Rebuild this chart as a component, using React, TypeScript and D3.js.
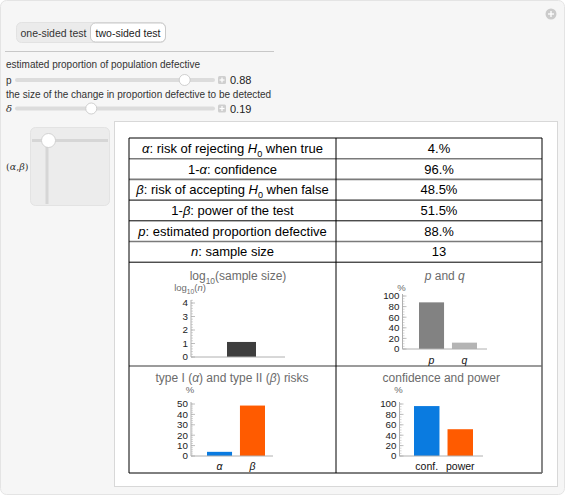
import React from "react";
import * as d3 from "d3";

// ---------- data ----------
const pValue = 0.88;
const deltaValue = 0.19;
const tableValues = ["4.%", "96.%", "48.5%", "51.5%", "88.%", "13"];
const sampleSize = 13;
const logTicks = [0, 1, 2, 3, 4];
const pqCategories = ["p", "q"];
const pqValues = [88, 12];
const riskCategories = ["α", "β"];
const riskValues = [4, 48.5];
const cpCategories = ["conf.", "power"];
const cpValues = [96, 51.5];
const pctTicks100 = [0, 20, 40, 60, 80, 100];
const pctTicks50 = [0, 10, 20, 30, 40, 50];

type Seg = { t: string; i?: boolean; sub?: boolean };
const tableLabels: Seg[][] = [
  [{ t: "α", i: true }, { t: ": risk of rejecting " }, { t: "H", i: true }, { t: "0", sub: true }, { t: " when true" }],
  [{ t: "1-" }, { t: "α", i: true }, { t: ": confidence" }],
  [{ t: "β", i: true }, { t: ": risk of accepting " }, { t: "H", i: true }, { t: "0", sub: true }, { t: " when false" }],
  [{ t: "1-" }, { t: "β", i: true }, { t: ": power of the test" }],
  [{ t: "p", i: true }, { t: ": estimated proportion defective" }],
  [{ t: "n", i: true }, { t: ": sample size" }],
];

const FONT = "'Liberation Sans', Arial, Helvetica, sans-serif";
const BLUE = "#0a7be0";
const ORANGE = "#ff5b00";

function Rich({ segs, x, y, size, fill = "#000", anchor = "middle" }: { segs: Seg[]; x: number; y: number; size: number; fill?: string; anchor?: string }) {
  const out: React.ReactNode[] = [];
  let shifted = false;
  segs.forEach((s, k) => {
    let dy: number | undefined = undefined;
    if (s.sub && !shifted) { dy = size * 0.3; shifted = true; }
    else if (!s.sub && shifted) { dy = -size * 0.3; shifted = false; }
    out.push(
      <tspan key={k} dy={dy} fontStyle={s.i ? "italic" : undefined} fontSize={s.sub ? size * 0.7 : undefined}>
        {s.t}
      </tspan>
    );
  });
  return (
    <text x={x} y={y} fontSize={size} fontFamily={FONT} fill={fill} textAnchor={anchor as any}>
      {out}
    </text>
  );
}

type ChartProps = {
  axisX: number; xEnd: number; y0: number; yMaxPx: number; domainMax: number; axisTop: number;
  ticks: number[]; minor: number; categories: string[]; values: number[]; colors: string[];
  band: [number, number]; pad: number; catLabelY?: number; catItalic?: boolean;
  title: Seg[]; titleY: number; axisLabel: Seg[]; axisLabelY: number; axisLabelSize: number;
};

function BarChart(p: ChartProps) {
  const y = d3.scaleLinear().domain([0, p.domainMax]).range([p.y0, p.yMaxPx]);
  const x = d3.scaleBand<string>().domain(p.categories).range(p.band).paddingInner(p.pad).paddingOuter(0);
  const topVal = y.invert(p.axisTop);
  const minors = d3.range(0, topVal + 1e-9, p.minor);
  return (
    <g>
      <Rich segs={p.title} x={(p.axisX + p.xEnd) / 2} y={p.titleY} size={12} fill="#6b6b6b" />
      <Rich segs={p.axisLabel} x={p.axisX - 1} y={p.axisLabelY} size={p.axisLabelSize} fill="#6b6b6b" />
      {p.categories.map((c, k) => (
        <rect key={c} x={x(c)} y={y(p.values[k])} width={x.bandwidth()} height={p.y0 - y(p.values[k])} fill={p.colors[k]} />
      ))}
      {minors.map((m, k) => (
        <line key={"m" + k} x1={p.axisX} x2={p.axisX + 2} y1={y(m)} y2={y(m)} stroke="#b8b8b8" strokeWidth={0.6} />
      ))}
      {p.ticks.map((t) => (
        <g key={t}>
          <line x1={p.axisX} x2={p.axisX + 4} y1={y(t)} y2={y(t)} stroke="#b0b0b0" strokeWidth={0.8} />
          <text x={p.axisX - 3} y={y(t) + 3.4} fontSize={9.8} fontFamily={FONT} textAnchor="end" fill="#222">{t}</text>
        </g>
      ))}
      <line x1={p.axisX} x2={p.axisX} y1={p.y0} y2={p.axisTop} stroke="#b0b0b0" strokeWidth={1} />
      <line x1={p.axisX} x2={p.xEnd} y1={p.y0} y2={p.y0} stroke="#b0b0b0" strokeWidth={1} />
      {p.catLabelY !== undefined && p.categories.map((c) => (
        <text key={"l" + c} x={(x(c) as number) + x.bandwidth() / 2} y={p.catLabelY} fontSize={10.5} fontFamily={FONT}
          textAnchor="middle" fontStyle={p.catItalic ? "italic" : undefined} fill="#111">{c}</text>
      ))}
    </g>
  );
}

function Slider({ label, italic, y, value, domain, text }: { label: string; italic?: boolean; y: number; value: number; domain: [number, number]; text: string }) {
  const sx = d3.scaleLinear().domain(domain).range([20, 210]);
  return (
    <g>
      <text x={6} y={y + 3.5} fontSize={10} fontFamily={italic ? "'DejaVu Serif', serif" : FONT} fontStyle={italic ? "italic" : undefined} fill="#333">{label}</text>
      <rect x={15} y={y - 2} width={200} height={4} rx={2} fill="#dcdcdc" />
      <circle cx={sx(value)} cy={y} r={5.5} fill="#fff" stroke="#c4c4c4" strokeWidth={0.8} />
      <rect x={218} y={y - 4} width={8} height={8} rx={1.5} fill="#cfcfcf" />
      <line x1={219.5} x2={224.5} y1={y} y2={y} stroke="#fff" strokeWidth={1.2} />
      <line x1={222} x2={222} y1={y - 2.5} y2={y + 2.5} stroke="#fff" strokeWidth={1.2} />
      <text x={230} y={y + 4} fontSize={11} fontFamily={FONT} fill="#222">{text}</text>
    </g>
  );
}

export default function App() {
  const tableTop = 138;
  const rowH = 20.7;
  const L = 129, M = 336, R = 542;
  const rowsBottom = tableTop + rowH * 6;
  const chartMid = 366;
  const tableBottom = 473;
  const hLines = [
    { y: tableTop, g: false },
    { y: tableTop + rowH, g: true },
    { y: tableTop + rowH * 2, g: true },
    { y: tableTop + rowH * 3, g: false },
    { y: tableTop + rowH * 4, g: false },
    { y: tableTop + rowH * 5, g: true },
    { y: rowsBottom, g: false },
    { y: chartMid, g: true },
    { y: tableBottom, g: false },
  ];
  return (
    <svg width={565} height={495} style={{ position: "absolute", left: 0, top: 0 }}>
      <rect x={0.5} y={0.5} width={564} height={494} rx={6} fill="#f6f6f6" stroke="#e4e4e4" />
      {/* top-right icon */}
      <circle cx={551} cy={14} r={5.5} fill="#cbcbcb" />
      <line x1={548} x2={554} y1={14} y2={14} stroke="#fff" strokeWidth={1.3} />
      <line x1={551} x2={551} y1={11} y2={17} stroke="#fff" strokeWidth={1.3} />

      {/* setter bar */}
      <rect x={16.5} y={22.5} width={149} height={20} rx={5} fill="#ebebeb" stroke="#e2e2e2" />
      <rect x={90.5} y={23} width={75} height={19} rx={5} fill="#fff" stroke="#c9c9c9" />
      <text x={53.5} y={36.5} fontSize={10.5} fontFamily={FONT} textAnchor="middle" fill="#333">one-sided test</text>
      <text x={128} y={36.5} fontSize={10.5} fontFamily={FONT} textAnchor="middle" fill="#222">two-sided test</text>
      <line x1={5} x2={274} y1={51.5} y2={51.5} stroke="#c8c8c8" />

      <text x={6} y={68} fontSize={10} fontFamily={FONT} fill="#333">estimated proportion of population defective</text>
      <Slider label="p" y={80} value={pValue} domain={[0.1, 1]} text="0.88" />
      <text x={6} y={98} fontSize={10} fontFamily={FONT} fill="#333">the size of the change in proportion defective to be detected</text>
      <Slider label="δ" italic y={108.5} value={deltaValue} domain={[0.01, 0.49]} text="0.19" />

      {/* 2D slider */}
      <text x={6} y={170} fontSize={9.5} fontFamily="'DejaVu Serif', serif" fill="#333">
        (<tspan fontStyle="italic">α</tspan>,<tspan fontStyle="italic">β</tspan>)
      </text>
      <rect x={30.5} y={127.5} width={79} height={78} rx={5} fill="#ececec" stroke="#e3e3e3" />
      <line x1={32} x2={108} y1={140.5} y2={140.5} stroke="#d6d6d6" strokeWidth={3} />
      <line x1={47} x2={47} y1={140.5} y2={204} stroke="#d6d6d6" strokeWidth={3} />
      <circle cx={48.5} cy={140.5} r={7} fill="#fff" stroke="#c9c9c9" strokeWidth={0.8} />

      {/* output panel */}
      <rect x={114.5} y={121.5} width={443} height={365} fill="#fff" stroke="#d8d8d8" />

      {/* table grid */}
      {hLines.map((h, k) => (
        <line key={k} x1={L} x2={R} y1={h.y} y2={h.y} stroke={h.g ? "#7a7a7a" : "#000"} strokeWidth={h.g ? 1.6 : 1} />
      ))}
      <line x1={L} x2={L} y1={tableTop} y2={tableBottom} stroke="#000" />
      <line x1={M} x2={M} y1={tableTop} y2={tableBottom} stroke="#000" />
      <line x1={R} x2={R} y1={tableTop} y2={rowsBottom} stroke="#000" />
      <line x1={R} x2={R} y1={rowsBottom} y2={tableBottom} stroke="#6a6a6a" strokeWidth={1.6} />

      {tableLabels.map((segs, k) => (
        <Rich key={k} segs={segs} x={(L + M) / 2} y={tableTop + rowH * k + rowH / 2 + 4.6} size={13} />
      ))}
      {tableValues.map((v, k) => (
        <text key={k} x={(M + R) / 2} y={tableTop + rowH * k + rowH / 2 + 4.6} fontSize={13} fontFamily={FONT} textAnchor="middle">{v}</text>
      ))}

      {/* charts */}
      <BarChart axisX={191} xEnd={285} y0={357} yMaxPx={303} domainMax={4} axisTop={300}
        ticks={logTicks} minor={0.2} categories={["n"]} values={[Math.log10(sampleSize)]} colors={["#3e3e3e"]}
        band={[227, 256]} pad={0}
        title={[{ t: "log" }, { t: "10", sub: true }, { t: "(sample size)" }]} titleY={280}
        axisLabel={[{ t: "log" }, { t: "10", sub: true }, { t: "(" }, { t: "n", i: true }, { t: ")" }]} axisLabelY={291} axisLabelSize={9.5} />
      <BarChart axisX={402.5} xEnd={487} y0={349} yMaxPx={296} domainMax={100} axisTop={294}
        ticks={pctTicks100} minor={5} categories={pqCategories} values={pqValues} colors={["#828282", "#b4b4b4"]}
        band={[419, 477]} pad={0.24} catLabelY={364} catItalic
        title={[{ t: "p", i: true }, { t: " and " }, { t: "q", i: true }]} titleY={280}
        axisLabel={[{ t: "%" }]} axisLabelY={291} axisLabelSize={9.5} />
      <BarChart axisX={191} xEnd={273} y0={456} yMaxPx={404} domainMax={50} axisTop={402}
        ticks={pctTicks50} minor={2} categories={riskCategories} values={riskValues} colors={[BLUE, ORANGE]}
        band={[207, 265]} pad={0.24} catLabelY={470} catItalic
        title={[{ t: "type I (" }, { t: "α", i: true }, { t: ") and type II (" }, { t: "β", i: true }, { t: ") risks" }]} titleY={382}
        axisLabel={[{ t: "%" }]} axisLabelY={393} axisLabelSize={9.5} />
      <BarChart axisX={399.5} xEnd={483} y0={456} yMaxPx={404} domainMax={100} axisTop={402}
        ticks={pctTicks100} minor={5} categories={cpCategories} values={cpValues} colors={[BLUE, ORANGE]}
        band={[414, 473]} pad={0.24} catLabelY={470}
        title={[{ t: "confidence and power" }]} titleY={382}
        axisLabel={[{ t: "%" }]} axisLabelY={393} axisLabelSize={9.5} />
    </svg>
  );
}
